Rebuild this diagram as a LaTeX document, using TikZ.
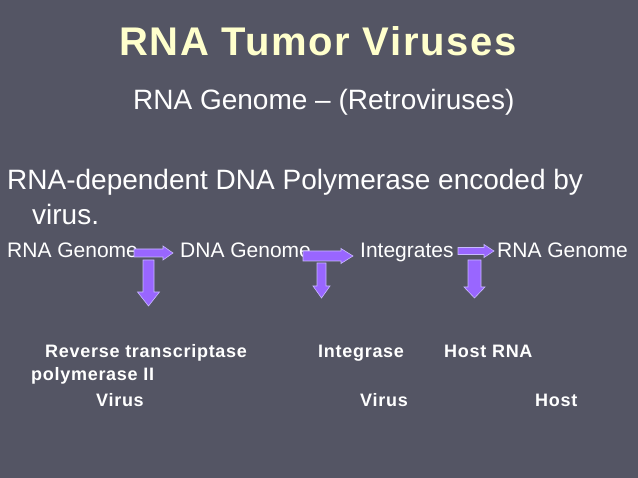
\documentclass[tikz,border=0pt]{standalone}
\usepackage{fontspec}
\setmainfont{Liberation Sans}
\newfontfamily\titlefont[LetterSpace=4.2]{Liberation Sans}
\newfontfamily\labfont[LetterSpace=4.0]{Liberation Sans}
\definecolor{bgcol}{RGB}{84,85,100}
\definecolor{titlecol}{RGB}{255,255,204}
\definecolor{arrfill}{RGB}{153,102,255}
\definecolor{arredge}{RGB}{200,185,255}
\newcommand\hblk[6]{% x1 x2 yc bodyhalf headhalf headlen
  \filldraw[blk] (#1,{#3-#4}) -- ({#2-#6},{#3-#4}) -- ({#2-#6},{#3-#5}) -- (#2,#3)
    -- ({#2-#6},{#3+#5}) -- ({#2-#6},{#3+#4}) -- (#1,{#3+#4}) -- cycle;}
\newcommand\vblk[6]{% xc y1 y2 bodyhalf headhalf headlen
  \filldraw[blk] ({#1-#4},#2) -- ({#1-#4},{#3-#6}) -- ({#1-#5},{#3-#6}) -- (#1,#3)
    -- ({#1+#5},{#3-#6}) -- ({#1+#4},{#3-#6}) -- ({#1+#4},#2) -- cycle;}
\begin{document}
\begin{tikzpicture}[x=1pt,y=-1pt,
  txt/.style={anchor=base west,inner sep=0pt,text=white},
  ttl/.style={txt,text=titlecol,font=\titlefont\bfseries\fontsize{40}{48}\selectfont},
  big/.style={txt,font=\fontsize{28}{34}\selectfont},
  mid/.style={txt,font=\fontsize{21}{25}\selectfont},
  lab/.style={txt,font=\labfont\bfseries\fontsize{18}{22}\selectfont},
  blk/.style={fill=arrfill,draw=arredge,line width=0.6pt}]
\fill[bgcol] (0,0) rectangle (638,478);
\useasboundingbox (0,0) rectangle (638,478);
\node[ttl] (title) at (119,56) {RNA Tumor Viruses};
\node[big] (sub) at (133,110) {RNA Genome – (Retroviruses)};
\node[big] (l1) at (7,190) {RNA-dependent DNA Polymerase encoded by};
\node[big] (l2) at (32,225) {virus.};
\node[mid] (g1) at (7,258) {RNA Genome};
\node[mid] (g2) at (180,258) {DNA Genome};
\node[mid] (g3) at (360,258) {Integrates};
\node[mid] (g4) at (497,258) {RNA Genome};
\hblk{134}{173}{253}{4}{7}{10}
\vblk{148.5}{260}{306}{5.5}{11}{14}
\hblk{303}{353}{256}{5}{7.5}{12}
\vblk{321.5}{263}{298}{4.5}{8.5}{12}
\hblk{458}{494}{251}{3.5}{6.5}{10}
\vblk{474.5}{260}{298}{6.5}{10.5}{11}
\node[lab] (e1) at (45,358) {Reverse transcriptase};
\node[lab] (e2) at (318,358) {Integrase};
\node[lab] (e3) at (444,358) {Host RNA};
\node[lab] (e4) at (31,381) {polymerase II};
\node[lab] (s1) at (96,407) {Virus};
\node[lab] (s2) at (360,407) {Virus};
\node[lab] (s3) at (535,407) {Host};
\end{tikzpicture}
\end{document}
